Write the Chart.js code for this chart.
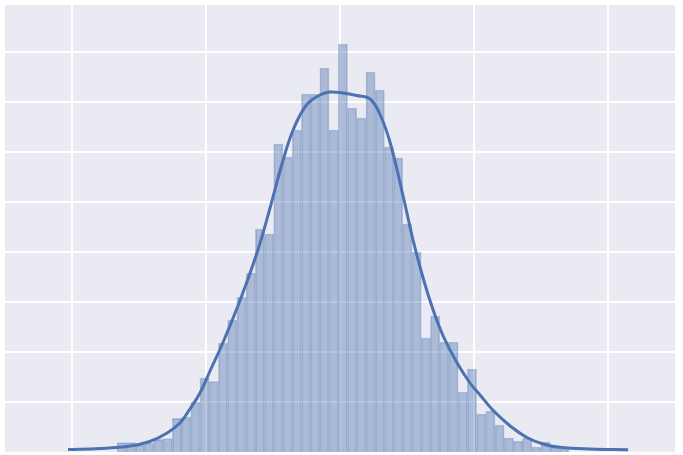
<!DOCTYPE html>
<html>
<head>
<meta charset="utf-8">
<script src="https://cdn.jsdelivr.net/npm/chart.js@4.4.1/dist/chart.umd.min.js"></script>
<style>
  html, body { margin: 0; padding: 0; background: #ffffff; }
  #wrap { width: 683px; height: 455px; }
</style>
</head>
<body>
<div id="wrap"><canvas id="chart" width="683" height="455"></canvas></div>
<script>
  'use strict';

  // Histogram (density per bin), bins of equal width starting at binStart
  var binStart = -3.328;
  var binWidth = 0.1376;
  var binDensity = [
    0.0093, 0.0093, 0.007, 0.009, 0.0127, 0.0135, 0.0337, 0.035, 0.050, 0.074,
    0.0703, 0.109, 0.132, 0.155, 0.179, 0.223, 0.218, 0.308, 0.295, 0.322,
    0.358, 0.358, 0.384, 0.322, 0.408, 0.344, 0.334, 0.380, 0.362, 0.305,
    0.294, 0.228, 0.200, 0.114, 0.136, 0.110, 0.110, 0.060, 0.083, 0.038,
    0.041, 0.027, 0.014, 0.011, 0.014, 0.005, 0.010, 0.005, 0.0035
  ];

  // KDE curve
  var kdeX = [
    -4.06, -3.58, -3.13, -2.84, -2.58, -2.39, -2.24, -2.09, -1.94, -1.75,
    -1.49, -1.24, -1.04, -0.87, -0.70, -0.50, -0.30, -0.15, 0.045, 0.25,
    0.45, 0.60, 0.75, 0.945, 1.09, 1.24, 1.39, 1.54, 1.74, 1.94,
    2.09, 2.28, 2.54, 2.79, 3.03, 3.28, 3.73, 4.30
  ];
  var kdeY = [
    0.0025, 0.0035, 0.006, 0.0105, 0.019, 0.029, 0.043, 0.059, 0.081, 0.109,
    0.152, 0.199, 0.245, 0.287, 0.322, 0.347, 0.357, 0.360, 0.359, 0.3565,
    0.353, 0.337, 0.309, 0.255, 0.212, 0.174, 0.142, 0.116, 0.090, 0.069,
    0.057, 0.042, 0.026, 0.0145, 0.008, 0.0047, 0.003, 0.0023
  ];

  // Grid positions (no labels shown)
  var xTicks = [-4, -2, 0, 2, 4];
  var yTicks = [0.05, 0.1, 0.15, 0.2, 0.25, 0.3, 0.35, 0.4];

  var blue = '#4C72B0';

  var histPoints = binDensity.map(function(v, i) {
    return { x: binStart + (i + 0.5) * binWidth, y: v };
  });
  var kdePoints = kdeX.map(function(x, i) {
    return { x: x, y: kdeY[i] };
  });

  // Seaborn-like plot background
  var plotBackground = {
    id: 'plotBackground',
    beforeDraw: function(chart) {
      var a = chart.chartArea;
      var ctx = chart.ctx;
      ctx.save();
      ctx.fillStyle = '#EAEAF2';
      ctx.fillRect(a.left, a.top, a.right - a.left, a.bottom - a.top);
      ctx.restore();
    }
  };

  function fixedTicks(list) {
    return function(scale) {
      scale.ticks = list.map(function(v) { return { value: v }; });
    };
  }

  new Chart(document.getElementById('chart'), {
    data: {
      datasets: [
        {
          type: 'line',
          data: kdePoints,
          borderColor: blue,
          borderWidth: 3,
          pointRadius: 0,
          tension: 0.4,
          fill: false,
          order: 0
        },
        {
          type: 'bar',
          data: histPoints,
          backgroundColor: 'rgba(76, 114, 176, 0.4)',
          borderColor: 'rgba(76, 114, 176, 0.35)',
          borderWidth: 1,
          barPercentage: 1,
          categoryPercentage: 1,
          order: 1
        }
      ]
    },
    options: {
      responsive: false,
      animation: false,
      layout: { padding: { left: 5, top: 5, right: 8, bottom: 3 } },
      plugins: {
        legend: { display: false },
        tooltip: { enabled: false }
      },
      scales: {
        x: {
          type: 'linear',
          min: -5,
          max: 5,
          offset: false,
          afterBuildTicks: fixedTicks(xTicks),
          afterFit: function(s) { s.height = 0; },
          ticks: { display: false },
          border: { display: false },
          grid: { color: '#ffffff', lineWidth: 2, drawTicks: false, offset: false }
        },
        y: {
          type: 'linear',
          min: 0,
          max: 0.447,
          afterBuildTicks: fixedTicks(yTicks),
          afterFit: function(s) { s.width = 0; },
          ticks: { display: false },
          border: { display: false },
          grid: { color: '#ffffff', lineWidth: 2, drawTicks: false }
        }
      }
    },
    plugins: [plotBackground]
  });
</script>
</body>
</html>
